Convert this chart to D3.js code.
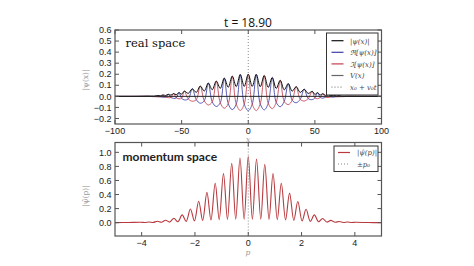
<!DOCTYPE html>
<html>
<head>
<meta charset="utf-8">
<script src="https://cdn.jsdelivr.net/npm/d3@7"></script>
<style>
  body { margin: 0; background: #fff; }
</style>
</head>
<body>
<div class="canvas"></div>
<script>
'use strict';
// real space (alternating peaks / troughs of |psi|)
var xPos = [-100, -85, -75, -70, -68, -66, -64, -62, -60, -58, -56, -54, -52, -50, -48, -45, -42, -39, -36, -33, -30, -27, -24, -21, -18, -15, -12, -9, -6, -3,
    0, 3, 6, 9, 12, 15, 18, 21, 24, 27, 30, 33, 36, 39, 42, 45, 48, 50, 52, 54, 56, 58, 60, 62, 64, 66, 68, 70, 75, 85, 100];
var psiAbs = [0, 0, 0.002, 0.003, 0.007, 0.005, 0.012, 0.008, 0.018, 0.011, 0.025, 0.015, 0.034, 0.020, 0.047, 0.027, 0.068, 0.036, 0.093, 0.048, 0.12, 0.06, 0.138, 0.072, 0.165, 0.082, 0.183, 0.088, 0.197, 0.09,
    0.2, 0.09, 0.198, 0.087, 0.188, 0.081, 0.17, 0.071, 0.145, 0.059, 0.115, 0.047, 0.088, 0.035, 0.064, 0.026, 0.045, 0.018, 0.033, 0.013, 0.024, 0.009, 0.016, 0.006, 0.011, 0.004, 0.006, 0.002, 0.001, 0, 0];
var psiRe = [0, 0, 0, -0.002, 0.007, -0.004, -0.008, -0.007, 0.018, -0.01, -0.018, -0.014, 0.034, -0.018, -0.032, -0.024, 0.068, -0.03, -0.062, -0.04, 0.12, -0.05, -0.092, -0.058, 0.165, -0.066, -0.12, -0.07, 0.197, -0.07,
    -0.13, -0.07, 0.198, -0.068, -0.122, -0.063, 0.17, -0.055, -0.094, -0.046, 0.115, -0.036, -0.058, -0.027, 0.064, -0.02, -0.03, -0.014, 0.033, -0.01, -0.016, -0.007, 0.016, -0.005, -0.007, -0.003, 0.006, -0.002, 0, 0, 0];
var psiIm = [0, 0, 0, -0.002, -0.005, -0.004, 0.012, -0.007, -0.012, -0.01, 0.025, -0.014, -0.022, -0.018, 0.047, -0.024, -0.044, -0.03, 0.093, -0.04, -0.078, -0.05, 0.138, -0.058, -0.108, -0.066, 0.183, -0.07, -0.128, -0.07,
    0.2, -0.07, -0.129, -0.068, 0.188, -0.063, -0.111, -0.055, 0.145, -0.046, -0.075, -0.036, 0.088, -0.027, -0.042, -0.02, 0.045, -0.014, -0.021, -0.01, 0.024, -0.007, -0.01, -0.005, 0.011, -0.003, -0.004, -0.002, 0, 0, 0];

// momentum space
var pPos = [-5, -4.5, -4.03, -3.88, -3.72, -3.57, -3.41, -3.26, -3.1, -2.95, -2.79, -2.64, -2.48, -2.33, -2.17, -2.02, -1.86, -1.71, -1.55, -1.4, -1.24, -1.09, -0.93, -0.78, -0.62, -0.47, -0.31, -0.155,
    0, 0.155, 0.31, 0.47, 0.62, 0.78, 0.93, 1.09, 1.24, 1.4, 1.55, 1.71, 1.86, 2.02, 2.17, 2.33, 2.48, 2.64, 2.79, 2.95, 3.1, 3.26, 3.41, 3.57, 3.72, 3.88, 4.03, 4.5, 5];
var phiAbs = [0, 0.002, 0.006, 0.002, 0.01, 0.003, 0.019, 0.005, 0.035, 0.008, 0.063, 0.012, 0.11, 0.018, 0.195, 0.025, 0.305, 0.032, 0.43, 0.038, 0.56, 0.043, 0.7, 0.047, 0.845, 0.05, 0.92, 0.05,
    0.94, 0.05, 0.905, 0.05, 0.83, 0.047, 0.7, 0.043, 0.56, 0.038, 0.42, 0.032, 0.3, 0.025, 0.19, 0.018, 0.11, 0.012, 0.06, 0.008, 0.032, 0.005, 0.017, 0.003, 0.009, 0.002, 0.005, 0.001, 0];

var xTicks = [-100, -50, 0, 50, 100];
var yTicksTop = [-0.2, -0.1, 0.0, 0.1, 0.2, 0.3, 0.4, 0.5, 0.6];
var pTicks = [-4, -2, 0, 2, 4];
var yTicksBot = [0.0, 0.2, 0.4, 0.6, 0.8, 1.0];

var W = 474, H = 266;
var L = 115, R = 381.5;
var SANS = "'Open Sans', 'DejaVu Sans', sans-serif";
var TICK = "'Liberation Sans', Arial, sans-serif";
var SERIF = "'DejaVu Serif', serif";
var svg = d3.select(".canvas").append("svg").attr("width", W).attr("height", H)
    .style("font-family", SANS);

var fmt = function(d) { return d3.format(".1f")(d).replace("-", "\u2212"); };
var fmtI = function(d) { return String(d).replace("-", "\u2212"); };

function frame(top, bottom, xs, ys, xt, yt, xf, yf) {
    var g = svg.append("g").style("font-family", TICK);
    // ticks on all sides, pointing in
    xt.forEach(function(t) {
        var x = xs(t);
        g.append("line").attr("x1", x).attr("x2", x).attr("y1", bottom).attr("y2", bottom - 4).attr("stroke", "#555");
        g.append("line").attr("x1", x).attr("x2", x).attr("y1", top).attr("y2", top + 4).attr("stroke", "#555");
        g.append("text").attr("x", x).attr("y", bottom + 9.5).attr("text-anchor", "middle")
            .attr("font-size", 9).attr("fill", "#222").text(xf(t));
    });
    yt.forEach(function(t) {
        var y = ys(t);
        g.append("line").attr("x1", L).attr("x2", L + 4).attr("y1", y).attr("y2", y).attr("stroke", "#555");
        g.append("line").attr("x1", R).attr("x2", R - 4).attr("y1", y).attr("y2", y).attr("stroke", "#555");
        g.append("text").attr("x", L - 3.5).attr("y", y + 3.2).attr("text-anchor", "end")
            .attr("font-size", 9).attr("fill", "#222").text(yf(t));
    });
    g.append("rect").attr("x", L).attr("y", top).attr("width", R - L).attr("height", bottom - top)
        .attr("fill", "none").attr("stroke", "#555").attr("stroke-width", 1.2);
}

// ---------- top panel ----------
var T1 = 30, B1 = 124;
var x1 = d3.scaleLinear().domain([-100, 100]).range([L, R]);
var y1 = d3.scaleLinear().domain([-0.25, 0.6]).range([B1, T1]);

svg.append("defs").append("clipPath").attr("id", "c1").append("rect")
    .attr("x", L).attr("y", T1).attr("width", R - L).attr("height", B1 - T1);

var g1 = svg.append("g").attr("clip-path", "url(#c1)");
var line1 = function(vals) {
    return d3.line().x(function(d, i) { return x1(xPos[i]); }).y(function(d) { return y1(d); })
        .curve(d3.curveCatmullRom)(vals);
};
g1.append("path").attr("d", line1(psiRe)).attr("fill", "none").attr("stroke", "#3b3fa8").attr("stroke-width", 1).attr("opacity", 0.85);
g1.append("path").attr("d", line1(psiIm)).attr("fill", "none").attr("stroke", "#c2404f").attr("stroke-width", 1).attr("opacity", 0.85);
g1.append("path").attr("d", line1(psiAbs)).attr("fill", "none").attr("stroke", "#111").attr("stroke-width", 1);
g1.append("line").attr("x1", L).attr("x2", R).attr("y1", y1(0)).attr("y2", y1(0)).attr("stroke", "#222").attr("stroke-width", 1);
g1.append("line").attr("x1", x1(0)).attr("x2", x1(0)).attr("y1", T1).attr("y2", B1)
    .attr("stroke", "#888").attr("stroke-dasharray", "1,2");

frame(T1, B1, x1, y1, xTicks, yTicksTop, fmtI, fmt);

svg.append("text").attr("x", 248).attr("y", 27).attr("text-anchor", "middle").attr("font-size", 12).attr("fill", "#111").text("t = 18.90");
svg.append("text").attr("x", 125.5).attr("y", 47).style("font-family", "'DejaVu Serif', serif")
    .attr("font-size", 11.5).attr("fill", "#111").text("real space");
svg.append("text").attr("transform", "translate(88,80) rotate(-90)").attr("text-anchor", "middle")
    .style("font-family", SERIF).attr("font-size", 7.5).attr("fill", "#999").text("|\u03c8(x)|");
svg.append("text").attr("x", 248).attr("y", 142).attr("text-anchor", "middle")
    .style("font-family", SERIF).attr("font-style", "italic").attr("font-size", 7.5).attr("fill", "#999").text("x");

// legend top
var leg1 = [
    { t: "|\u03c8(x)|", c: "#111", d: null },
    { t: "\u211c[\u03c8(x)]", c: "#3b3fa8", d: null },
    { t: "\u2111[\u03c8(x)]", c: "#c2404f", d: null },
    { t: "V(x)", c: "#666", d: null },
    { t: "x\u2080 + v\u2080t", c: "#888", d: "1,2" }
];
var lg = svg.append("g");
lg.append("rect").attr("x", 326.5).attr("y", 33).attr("width", 51.5).attr("height", 62)
    .attr("fill", "#fff").attr("stroke", "#333").attr("stroke-width", 1);
leg1.forEach(function(e, i) {
    var y = 40.7 + i * 11.6;
    lg.append("line").attr("x1", 331.5).attr("x2", 343.5).attr("y1", y).attr("y2", y)
        .attr("stroke", e.c).attr("stroke-width", 1.2).attr("stroke-dasharray", e.d);
    lg.append("text").attr("x", 350).attr("y", y + 2.8).style("font-family", SERIF)
        .attr("font-style", "italic").attr("font-size", 7).attr("fill", "#444").text(e.t);
});

// ---------- bottom panel ----------
var T2 = 142.5, B2 = 236;
var x2 = d3.scaleLinear().domain([-5, 5]).range([L, R]);
var y2 = d3.scaleLinear().domain([-0.19, 1.14]).range([B2, T2]);

svg.select("defs").append("clipPath").attr("id", "c2").append("rect")
    .attr("x", L).attr("y", T2).attr("width", R - L).attr("height", B2 - T2);
var g2 = svg.append("g").attr("clip-path", "url(#c2)");
var line2 = d3.line().x(function(d, i) { return x2(pPos[i]); }).y(function(d) { return y2(d); }).curve(d3.curveCatmullRom);
g2.append("path").attr("d", line2(phiAbs)).attr("fill", "none").attr("stroke", "#b83a3f").attr("stroke-width", 1.1);
g2.append("line").attr("x1", x2(0)).attr("x2", x2(0)).attr("y1", T2).attr("y2", B2)
    .attr("stroke", "#888").attr("stroke-dasharray", "1,2");

frame(T2, B2, x2, y2, pTicks, yTicksBot, fmtI, fmt);

svg.append("text").attr("x", 122.5).attr("y", 161).style("font-family", "Lato, sans-serif").attr("font-size", 12)
    .attr("font-weight", "bold").attr("fill", "#222").text("momentum space");
svg.append("text").attr("transform", "translate(88,196) rotate(-90)").attr("text-anchor", "middle")
    .style("font-family", SERIF).attr("font-size", 7.5).attr("fill", "#999").text("|\u03c8\u0302(p)|");
svg.append("text").attr("x", 248).attr("y", 255).attr("text-anchor", "middle")
    .style("font-family", SERIF).attr("font-style", "italic").attr("font-size", 7.5).attr("fill", "#999").text("p");

var lg2 = svg.append("g");
lg2.append("rect").attr("x", 334).attr("y", 146).attr("width", 44).attr("height", 25.5)
    .attr("fill", "#fff").attr("stroke", "#333").attr("stroke-width", 1);
[{ t: "|\u03c8\u0302(p)|", c: "#b83a3f", d: null }, { t: "\u00b1p\u2080", c: "#888", d: "1,2" }].forEach(function(e, i) {
    var y = 152.5 + i * 11.5;
    lg2.append("line").attr("x1", 338).attr("x2", 350).attr("y1", y).attr("y2", y)
        .attr("stroke", e.c).attr("stroke-width", 1.2).attr("stroke-dasharray", e.d);
    lg2.append("text").attr("x", 357).attr("y", y + 2.8).style("font-family", SERIF)
        .attr("font-style", "italic").attr("font-size", 7).attr("fill", "#444").text(e.t);
});
</script>
</body>
</html>
